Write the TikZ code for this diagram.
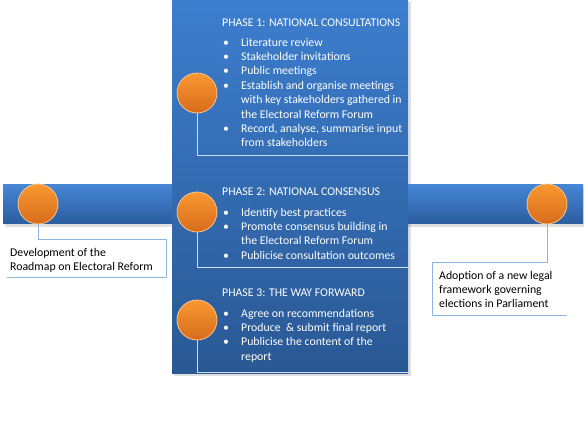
\documentclass[tikz,border=0pt]{standalone}
\usepackage{fontspec}
\setmainfont{Carlito}
\definecolor{barT}{RGB}{70,134,214}
\definecolor{barB}{RGB}{44,94,160}
\definecolor{vT}{RGB}{60,126,206}
\definecolor{vB}{RGB}{42,88,148}
\definecolor{orT}{RGB}{250,152,48}
\definecolor{orB}{RGB}{214,108,28}
\definecolor{orE}{RGB}{250,196,140}
\definecolor{lnOut}{RGB}{142,180,227}
\definecolor{lnIn}{RGB}{205,222,242}
\begin{document}
\begin{tikzpicture}[x=1pt,y=-1pt,
  dot/.style={circle,minimum size=40pt,inner sep=0pt,top color=orT,bottom color=orB,draw=orE,line width=0.8pt},
  lineout/.style={draw=lnOut,line width=1pt},
  linein/.style={draw=lnIn,line width=1pt},
  txt/.style={anchor=base west,inner sep=0pt,font=\fontsize{11.8}{14.4}\selectfont},
  wtxt/.style={txt,text=white}]
\useasboundingbox (0,0) rectangle (584,434);
% shadows
\fill[black,opacity=0.12] (5,187) rectangle (585,227);
\fill[black,opacity=0.12] (174,2) rectangle (411,376);
% bars
\shade[top color=barT,bottom color=barB] (3,184) rectangle (583,223);
\shade[top color=vT,bottom color=vB] (172,0) rectangle (408,373);
% circles
\node[dot] (c0) at (38,204) {};
\node[dot] (c1) at (197,93) {};
\node[dot] (c2) at (197,212) {};
\node[dot] (c3) at (197,320) {};
\node[dot] (c4) at (547,204) {};
% connectors inside
\coordinate (p1) at (408,155);
\coordinate (p2) at (408,267);
\coordinate (p3) at (408,372);
\draw[linein] (c1.south) |- (p1);
\draw[linein] (c2.south) |- (p2);
\draw[linein] (c3.south) |- (p3);
% callouts
\coordinate (l1) at (166,239);
\coordinate (l2) at (166,277);
\coordinate (l3) at (7,277);
\draw[lineout] (c0.south) |- (l1) -- (l2) -- (l3);
\coordinate (r1) at (432,262);
\coordinate (r2) at (432,315);
\coordinate (r3) at (567,315);
\draw[lineout] (c4.south) |- (r1) -- (r2) -- (r3);
% texts
\node[txt] (t0) at (10,256) {\begin{tabular}[t]{@{}l@{}}Development of the\\Roadmap on Electoral Reform\end{tabular}};
\node[txt] (t4) at (439,279) {\begin{tabular}[t]{@{}l@{}}Adoption of a new legal\\framework governing\\elections in Parliament\end{tabular}};
\node[wtxt] (h1) at (222,26) {PHASE 1: NATIONAL CONSULTATIONS};
\node[wtxt] (b1) at (223,46) {\begin{tabular}[t]{@{}p{18pt}@{}l@{}}
\textbullet & Literature review\\
\textbullet & Stakeholder invitations\\
\textbullet & Public meetings\\
\textbullet & Establish and organise meetings\\
 & with key stakeholders gathered in\\
 & the Electoral Reform Forum\\
\textbullet & Record, analyse, summarise input\\
 & from stakeholders\end{tabular}};
\node[wtxt] (h2) at (222,195) {PHASE 2: NATIONAL CONSENSUS};
\node[wtxt] (b2) at (223,216) {\begin{tabular}[t]{@{}p{18pt}@{}l@{}}
\textbullet & Identify best practices\\
\textbullet & Promote consensus building in\\
 & the Electoral Reform Forum\\
\textbullet & Publicise consultation outcomes\end{tabular}};
\node[wtxt] (h3) at (222,296) {PHASE 3: THE WAY FORWARD};
\node[wtxt] (b3) at (223,317) {\begin{tabular}[t]{@{}p{18pt}@{}l@{}}
\textbullet & Agree on recommendations\\
\textbullet & Produce\ \ \& submit final report\\
\textbullet & Publicise the content of the\\
 & report\end{tabular}};
\end{tikzpicture}
\end{document}
